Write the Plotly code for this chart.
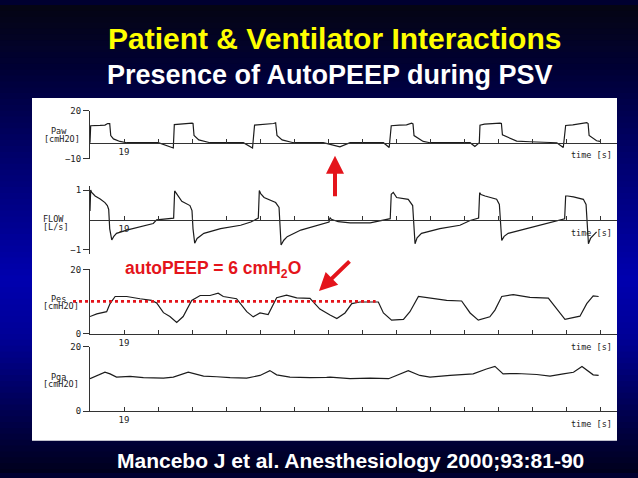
import plotly.graph_objects as go

W, H = 638, 478


def fx(px):
    return px / W


def fy(py):
    return 1 - py / H


# time axis: 18 s sits on the y axes, 34 px per second
T0, X0, X1, SEC = 18.0, 90, 617, 34.0
T_END = T0 + (X1 - X0) / SEC

paw_t = [18.00, 18.02, 18.30, 18.44, 18.52, 18.56, 18.58, 18.61, 18.69, 18.88, 19.08,
         20.01, 20.45, 20.48, 20.70, 21.00, 21.03, 21.06, 21.20, 21.53,
         22.51, 22.78, 22.84, 23.10, 23.40, 23.46, 23.50, 23.65, 23.98,
         24.86, 25.00, 25.35, 25.65,
         26.63, 26.80, 26.86, 27.10, 27.31, 27.46, 27.50, 27.53, 27.80, 28.00,
         29.18, 29.32, 29.45, 29.47, 29.60, 30.06, 30.10, 30.13, 30.55, 30.94,
         31.73, 31.92, 31.99, 32.20, 32.61, 32.65, 32.68, 32.90, 33.00]
paw_val = [0.0, 10.6, 10.8, 11.0, 12.0, 12.2, 12.0, 4.5, 2.4, 0.8, 0.0,
           0.0, -3.3, 11.3, 11.8, 12.2, 12.0, 4.5, 1.8, 0.0,
           0.0, -3.3, 11.0, 11.3, 12.0, 12.5, 4.5, 1.8, 0.0,
           0.0, -0.8, -2.6, 0.0,
           0.0, -3.0, 10.6, 11.0, 11.2, 12.2, 11.8, 4.5, 0.8, 0.0,
           0.0, -2.4, 0.0, 11.0, 11.6, 12.2, 12.0, 4.9, 1.0, 0.6,
           0.0, -3.0, 10.8, 11.2, 12.6, 12.0, 4.5, 1.2, 0.8]

flow_t = [18.00, 18.02, 18.05, 18.15, 18.30, 18.44, 18.51, 18.55, 18.58, 18.64, 18.70,
          18.78, 19.08, 19.47, 19.86, 19.96, 20.40, 20.46, 20.49, 20.53, 20.70, 20.94,
          21.00, 21.03, 21.08, 21.15, 21.35, 21.84, 22.43, 22.73, 22.90, 22.95, 22.98,
          23.02, 23.12, 23.46, 23.56, 23.59, 23.62, 23.70, 23.80, 24.20, 24.69, 25.03,
          25.06, 25.10, 25.30, 25.65, 26.24, 26.68, 26.83, 26.86, 26.92, 27.02, 27.36,
          27.49, 27.53, 27.56, 27.62, 27.75, 28.29, 28.88, 29.18, 29.40, 29.43, 29.46,
          29.50, 29.62, 29.96, 30.04, 30.08, 30.11, 30.18, 30.30, 30.84, 31.43, 31.82,
          31.96, 31.99, 32.05, 32.22, 32.51, 32.59, 32.63, 32.66, 32.72, 32.90]
flow_val = [0.30, 1.00, 0.92, 0.80, 0.70, 0.58, 0.48, 0.35, -0.30, -0.67, -0.55,
            -0.45, -0.34, -0.24, -0.12, 0.00, 0.04, 0.06, 0.97, 0.90, 0.62, 0.48,
            0.31, -0.30, -0.78, -0.62, -0.45, -0.29, -0.18, -0.07, 0.04, 0.06, 0.98,
            0.88, 0.75, 0.58, 0.42, -0.20, -0.84, -0.68, -0.56, -0.34, -0.18, -0.07,
            0.08, 0.02, -0.06, -0.10, -0.10, 0.00, 0.04, 0.86, 0.92, 0.75, 0.69,
            0.48, -0.20, -0.80, -0.60, -0.45, -0.29, -0.18, -0.02, 0.04, 0.06, 0.91,
            0.85, 0.80, 0.69, 0.52, -0.20, -0.69, -0.55, -0.45, -0.29, -0.12, -0.02,
            0.04, 0.80, 0.80, 0.77, 0.69, 0.52, -0.20, -0.80, -0.62, -0.40]

pes_t = [18.00, 18.20, 18.49, 18.59, 18.74, 19.08, 19.47, 19.81, 19.96, 20.16, 20.35,
         20.55, 20.74, 20.99, 21.24, 21.53, 21.77, 21.92, 22.31, 22.61, 22.80, 23.00,
         23.24, 23.49, 23.78, 24.08, 24.47, 24.76, 25.06, 25.26, 25.50, 25.70, 25.94,
         26.48, 26.63, 26.87, 27.22, 27.41, 27.66, 28.00, 28.49, 28.93, 29.18, 29.42,
         29.76, 29.91, 30.11, 30.45, 30.94, 31.48, 31.77, 31.97, 32.41, 32.61, 32.80,
         32.96]
pes_val = [5.4, 6.2, 6.9, 9.4, 11.6, 11.6, 10.9, 10.4, 9.6, 6.6, 5.4,
           3.6, 5.4, 10.4, 11.9, 11.9, 12.6, 11.6, 10.9, 6.9, 5.3, 6.5,
           6.0, 11.2, 12.0, 11.2, 11.0, 7.7, 5.9, 4.8, 6.5, 9.4, 9.9,
           9.9, 6.5, 4.3, 4.5, 6.9, 11.6, 11.1, 10.4, 10.2, 6.5, 4.3,
           5.3, 7.4, 11.6, 12.2, 11.3, 11.1, 7.4, 4.5, 5.5, 9.4, 11.8,
           11.6]

pga_t = [18.00, 18.20, 18.44, 18.59, 18.78, 19.18, 19.57, 20.16, 20.45, 20.89, 21.14,
         21.34, 21.73, 22.12, 22.61, 23.00, 23.29, 23.49, 23.88, 24.47, 24.96, 25.06,
         25.65, 26.24, 26.78, 27.02, 27.36, 27.70, 28.00, 28.59, 29.27, 29.66, 29.91,
         30.15, 30.55, 31.14, 31.53, 31.92, 32.22, 32.47, 32.66, 32.80, 32.96]
pga_val = [10.1, 11.1, 12.1, 11.6, 10.6, 10.8, 10.4, 10.3, 10.6, 12.1, 11.3,
           10.9, 10.7, 10.4, 10.3, 11.1, 12.6, 11.3, 10.6, 10.4, 10.5, 10.6,
           10.1, 10.3, 10.1, 11.1, 12.6, 11.1, 10.6, 11.1, 11.6, 13.1, 13.9,
           11.6, 11.7, 11.4, 10.9, 11.6, 12.1, 13.9, 12.3, 11.3, 11.1]

autopeep_t = [17.5, 26.4]
autopeep_val = [10.1, 10.1]

time_ticks = list(range(19, 34))
time_labels = ["19"] + [""] * (len(time_ticks) - 1)

TRACE = "#1c1c1c"
AXIS = "#333333"
MONO = "DejaVu Sans Mono"
SANS = "Liberation Sans, Arial"
RED = "#e4141b"

fig = go.Figure()
for xa, ya, t, v in [("x", "y", paw_t, paw_val), ("x2", "y2", flow_t, flow_val),
                     ("x3", "y3", pes_t, pes_val), ("x4", "y4", pga_t, pga_val)]:
    fig.add_trace(go.Scatter(x=t, y=v, xaxis=xa, yaxis=ya, mode="lines",
                             line=dict(color=TRACE, width=1.2), hoverinfo="skip"))

fig.add_trace(go.Scatter(x=autopeep_t, y=autopeep_val, xaxis="x5", yaxis="y3", mode="lines",
                         line=dict(color=RED, width=2.6, dash="dot"), hoverinfo="skip"))

xcommon = dict(domain=[fx(X0), fx(X1)], range=[T0, T_END], showgrid=False, zeroline=False,
               showline=True, linecolor=AXIS, linewidth=1, ticks="inside", ticklen=4,
               tickcolor=AXIS, tickvals=time_ticks, ticktext=time_labels,
               tickfont=dict(family=MONO, size=9, color="#222"))
ycommon = dict(showgrid=False, zeroline=False, showline=True, linecolor=AXIS, linewidth=1,
               ticks="outside", ticklen=6, tickcolor=AXIS,
               tickfont=dict(family=MONO, size=9, color="#222"))

paw_zero = 108 + 20 * (157 - 108) / 30
flow_zero = 219.5

fig.update_layout(
    width=W, height=H, margin=dict(l=0, r=0, t=0, b=0), showlegend=False,
    paper_bgcolor="#000030", plot_bgcolor="rgba(0,0,0,0)",
    xaxis=dict(xcommon, anchor="free", position=fy(paw_zero)),
    xaxis2=dict(xcommon, anchor="free", position=fy(flow_zero)),
    xaxis3=dict(xcommon, anchor="y3"),
    xaxis4=dict(xcommon, anchor="y4"),
    xaxis5=dict(domain=[fx(32), fx(X1)], range=[T0 - (X0 - 32) / SEC, T_END],
                anchor="y3", visible=False),
    yaxis=dict(ycommon, anchor="x", range=[-10, 20], domain=[fy(157), fy(108)],
               tickvals=[20, -10]),
    yaxis2=dict(ycommon, anchor="x2", range=[-1.15, 1.15], domain=[fy(254.6), fy(184.4)],
                tickvals=[1, -1]),
    yaxis3=dict(ycommon, anchor="x3", range=[0, 20], domain=[fy(336), fy(270)],
                tickvals=[20, 0]),
    yaxis4=dict(ycommon, anchor="x4", range=[0, 20], domain=[fy(415), fy(349)],
                tickvals=[20, 0]),
)

# slide background: vertical blue gradient, then the white panel of the scan
stops = [(0, (5, 5, 18)), (70, (0, 0, 55)), (160, (0, 0, 110)), (280, (0, 0, 175)),
         (340, (0, 0, 150)), (410, (0, 0, 85)), (478, (0, 0, 28))]
shapes = []
step = 6
for top in range(0, H, step):
    mid = top + step / 2
    for (y0, c0), (y1, c1) in zip(stops, stops[1:]):
        if y0 <= mid <= y1:
            k = (mid - y0) / (y1 - y0)
            col = tuple(round(a + (b - a) * k) for a, b in zip(c0, c1))
            break
    shapes.append(dict(type="rect", xref="paper", yref="paper", x0=0, x1=1,
                       y0=fy(min(top + step + 1, H)), y1=fy(top), layer="below",
                       line=dict(width=0), fillcolor="rgb(%d,%d,%d)" % col))
shapes.append(dict(type="rect", xref="paper", yref="paper", x0=fx(32), x1=fx(617),
                   y0=fy(445), y1=fy(95), layer="below", line=dict(width=0),
                   fillcolor="white"))
fig.update_layout(shapes=shapes)


def note(text, px, py, size, color="#222", family=MONO):
    fig.add_annotation(text=text, x=fx(px), y=fy(py), xref="paper", yref="paper",
                       xanchor="center", yanchor="middle", showarrow=False,
                       font=dict(family=family, size=size, color=color))


# channel labels
for name, unit, px, y_name, y_unit in [("Paw", "[cmH2O]", 62, 129, 136.5),
                                        ("FLOW", "[L/s]", 56, 219, 226.5),
                                        ("Pes", "[cmH2O]", 61, 300, 307.5),
                                        ("Pga", "[cmH2O]", 61, 380, 387.5)]:
    note(name, px - 3, y_name, 8.5)
    note(unit, px, y_unit, 8.5)

for py in [153, 233, 349, 428]:
    note("time [s]", 591, py, 8.5)

note("<b>Patient &amp; Ventilator Interactions</b>", 334, 34, 30, "#ffff00", SANS)
note("<b>Presence of AutoPEEP during PSV</b>", 330, 72, 27, "white", SANS)
note("<b>Mancebo J et al. Anesthesiology 2000;93:81-90</b>", 350, 465, 21, "white", SANS)
note("<b>autoPEEP = 6 cmH<sub>2</sub>O</b>", 213, 270, 17.5, RED, SANS)

# red arrows
for tip, dx, dy in [((335, 154), 0, 42), ((319, 292), 32, -31)]:
    fig.add_annotation(text="", x=fx(tip[0]), y=fy(tip[1]), xref="paper", yref="paper",
                       ax=dx, ay=dy, showarrow=True, arrowhead=2, arrowsize=0.9,
                       arrowwidth=4, arrowcolor=RED)

fig.write_html("out.html", config={"displayModeBar": False},
               post_script="document.body.style.margin='0';"
                           "document.body.style.overflow='hidden';"
                           "document.documentElement.style.overflow='hidden';")
